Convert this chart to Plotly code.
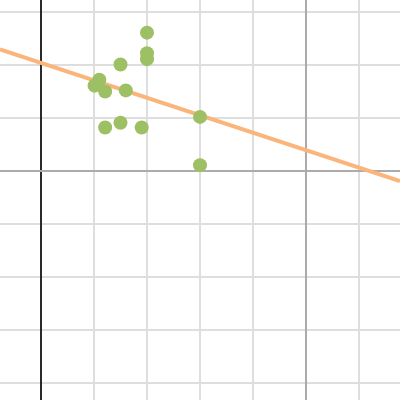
import plotly.graph_objects as go

# Scatter data (grid unit = 1)
pts_x = [2.0, 2.0, 2.0, 1.50, 1.10, 1.01, 1.21, 1.60, 1.21, 1.50, 1.90, 3.0, 3.0]
pts_y = [2.61, 2.22, 2.11, 2.01, 1.72, 1.61, 1.50, 1.52, 0.82, 0.91, 0.82, 1.02, 0.11]

# Trend line endpoints
line_x = [-0.774, 6.774]
line_y = [2.296, -0.189]

x_range = [-0.774, 6.774]
y_range = [-4.321, 3.226]

fig = go.Figure()
fig.add_trace(go.Scatter(x=line_x, y=line_y, mode="lines",
                         line=dict(color="#f9b57a", width=4), hoverinfo="skip"))
fig.add_trace(go.Scatter(x=pts_x, y=pts_y, mode="markers",
                         marker=dict(color="#9dc065", size=14, line=dict(width=0))))

fig.add_shape(type="line", x0=5, x1=5, y0=y_range[0], y1=y_range[1],
              line=dict(color="#ababab", width=2), layer="between")

fig.update_layout(
    width=400, height=400, margin=dict(l=0, r=0, t=0, b=0),
    paper_bgcolor="white", plot_bgcolor="white", showlegend=False,
    xaxis=dict(range=x_range, dtick=1, tick0=0, showgrid=True, gridcolor="#dedede", gridwidth=2,
               zeroline=True, zerolinecolor="#2a2a2a", zerolinewidth=2,
               showticklabels=False, ticks="", fixedrange=True),
    yaxis=dict(range=y_range, dtick=1, tick0=0, showgrid=True, gridcolor="#dedede", gridwidth=2,
               zeroline=True, zerolinecolor="#ababab", zerolinewidth=2,
               showticklabels=False, ticks="", fixedrange=True),
)
fig.write_html("out.html", post_script="document.body.style.margin='0';",
               config={"displayModeBar": False})
